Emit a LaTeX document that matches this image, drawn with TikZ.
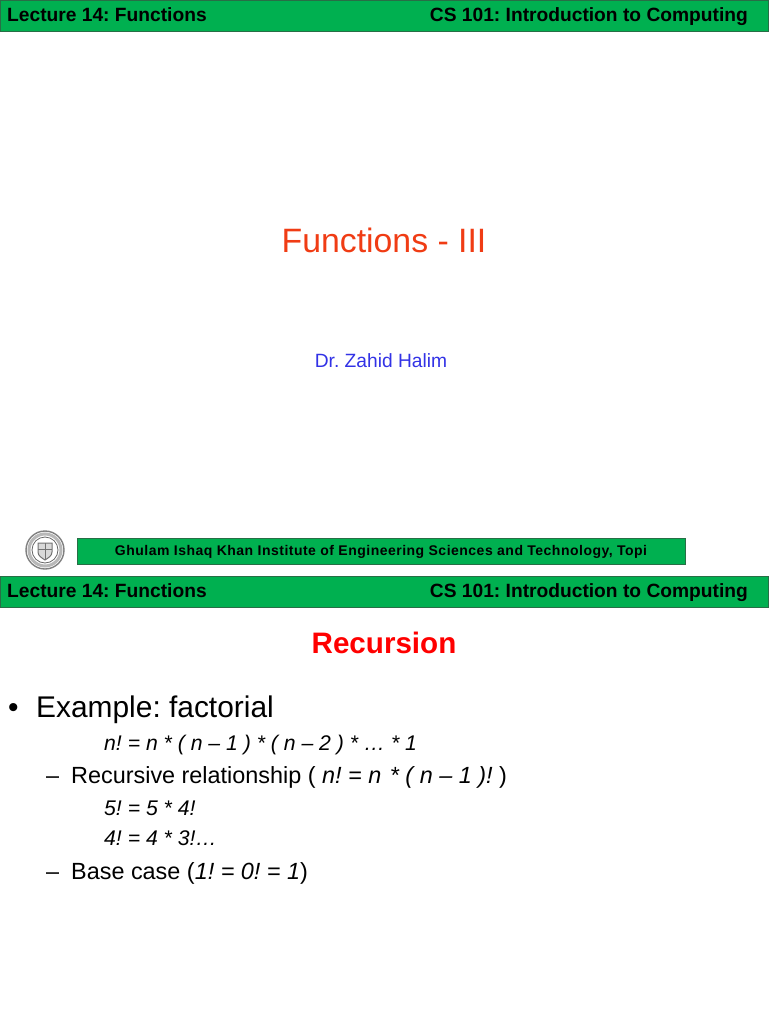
\documentclass[tikz,border=0pt]{standalone}
\usepackage{fontspec}
\setmainfont{Liberation Sans}
\frenchspacing
\definecolor{bargreen}{RGB}{0,176,80}
\definecolor{baredge}{RGB}{40,110,70}
\definecolor{titlered}{RGB}{240,60,20}
\definecolor{authorblue}{RGB}{50,50,230}
\tikzset{
  bar/.style={fill=bargreen,draw=baredge,line width=1pt,anchor=north west,inner sep=0pt,minimum width=768pt,minimum height=31pt},
  head/.style={anchor=base west,inner sep=0pt,font=\bfseries\fontsize{19.2}{21}\selectfont},
  headr/.style={anchor=base east,inner sep=0pt,font=\bfseries\fontsize{19.2}{21}\selectfont},
  big/.style={anchor=base west,inner sep=0pt,font=\fontsize{29.9}{32}\selectfont},
  mid/.style={anchor=base west,inner sep=0pt,font=\fontsize{23.4}{26}\selectfont},
  small/.style={anchor=base west,inner sep=0pt,font=\itshape\fontsize{21.2}{24}\selectfont},
  seal/.style={draw=black!55,fill=none}
}
\begin{document}
\begin{tikzpicture}[x=1pt,y=-1pt]
\useasboundingbox (0,0) rectangle (768,1024);
\fill[white] (0,0) rectangle (768,1024);
% slide 1
\node[bar] (bar1) at (0,0.5) {};
\node[head] (l1) at (7,21.5) {Lecture 14: Functions};
\node[headr] (r1) at (748,21.5) {CS 101: Introduction to Computing};
\node[anchor=base,inner sep=0pt,text=titlered,font=\fontsize{33.8}{36}\selectfont] (title) at (384,252) {Functions - III};
\node[anchor=base,inner sep=0pt,text=authorblue,font=\fontsize{19.2}{21}\selectfont] (author) at (381,367) {Dr. Zahid Halim};
% seal
\draw[seal,line width=1.4pt,draw=black!50] (45,550) circle (19);
\draw[seal,line width=3pt,draw=black!28] (45,550) circle (16);
\draw[seal,line width=.8pt,draw=black!60] (45,550) circle (13);
\draw[seal,line width=1pt,fill=black!15] (38,543) -- (52,543) -- (52,552) .. controls (52,556) and (48,558) .. (45,560) .. controls (42,558) and (38,556) .. (38,552) -- cycle;
\draw[seal,line width=.7pt] (38,549) -- (52,549) (45,543) -- (45,560);
\node[fill=bargreen,draw=baredge,line width=1pt,anchor=north west,inner sep=0pt,minimum width=608pt,minimum height=25.5pt] (foot) at (77,538) {};
\node[anchor=base,inner sep=0pt,font=\bfseries\addfontfeature{LetterSpace=3.5}\fontsize{14}{16}\selectfont] (school) at (381,555.5) {Ghulam Ishaq Khan Institute of Engineering Sciences and Technology, Topi};
% slide 2
\node[bar] (bar2) at (0,576) {};
\node[head] (l2) at (7,597.5) {Lecture 14: Functions};
\node[headr] (r2) at (748,597.5) {CS 101: Introduction to Computing};
\node[anchor=base,inner sep=0pt,text=red,font=\bfseries\fontsize{29.6}{32}\selectfont] (rec) at (384,653) {Recursion};
\node[big] (b0) at (8,717) {•};
\node[big] (b1) at (36,717) {Example: factorial};
\node[small] (s1) at (104,750) {n! = n * ( n – 1 ) * ( n – 2 ) * … * 1};
\node[mid] (d1) at (46,783) {–};
\node[mid] (t1) at (71,783) {Recursive relationship ( {\itshape n! = n\kern2pt{} * ( n – 1 )!} )};
\node[small] (s2) at (104,815) {5! = 5 * 4!};
\node[small] (s3) at (104,845) {4! = 4 * 3!…};
\node[mid] (d2) at (46,879) {–};
\node[mid] (t2) at (71,879) {Base case ({\itshape 1! = 0! = 1})};
\end{tikzpicture}
\end{document}
